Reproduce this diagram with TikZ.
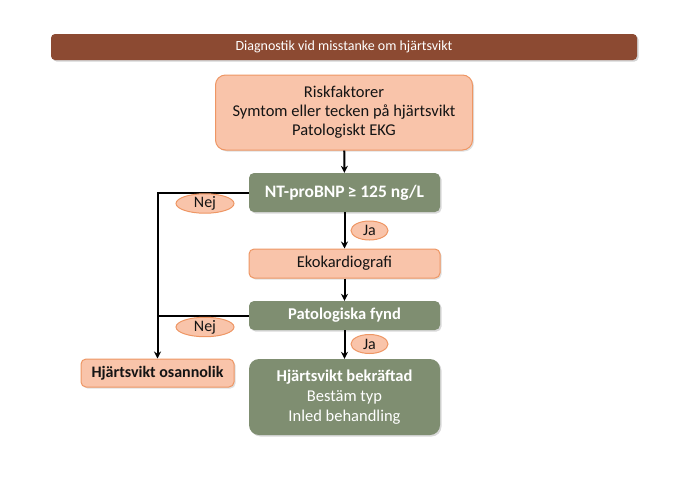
\documentclass[tikz,border=0pt]{standalone}
\usepackage{fontspec}
\setmainfont{Carlito}
\usetikzlibrary{arrows.meta,shapes.geometric,shadows}
\definecolor{bark}{RGB}{140,74,50}
\definecolor{peach}{RGB}{249,196,170}
\definecolor{rust}{RGB}{238,150,100}
\definecolor{sage}{RGB}{127,142,113}
\definecolor{ink}{RGB}{20,20,20}
\tikzset{
  >={Stealth[length=7pt,width=7pt]},
  header/.style={fill=bark,text=white,rounded corners=4pt,minimum width=586pt,
    minimum height=26pt,font=\fontsize{14}{16}\selectfont,
    drop shadow={opacity=0.35,shadow xshift=1.5pt,shadow yshift=-1.5pt}},
  soft box/.style={draw=rust,fill=peach,line width=1pt,rounded corners=#1,align=center,
    text=ink,font=\fontsize{16.5}{19}\selectfont,inner sep=0pt,
    drop shadow={opacity=0.25,shadow xshift=1.5pt,shadow yshift=-1.5pt}},
  soft box/.default=5pt,
  green box/.style={fill=sage,text=white,rounded corners=#1,align=center,inner sep=0pt,
    font=\fontsize{16.5}{20}\selectfont,
    drop shadow={opacity=0.3,shadow xshift=1.5pt,shadow yshift=-1.5pt}},
  green box/.default=5pt,
  answer/.style={ellipse,draw=rust,fill=peach,line width=1pt,inner sep=0pt,
    font=\fontsize{16}{18}\selectfont,text=ink},
  flow/.style={->,line width=2pt,draw=black},
}
\begin{document}
\begin{tikzpicture}[x=1pt,y=-1pt]
  \useasboundingbox (0,0) rectangle (684,490);
  \node[header] (title) at (344,47) {Diagnostik vid misstanke om hjärtsvikt};
  % boxes
  \node[soft box=10pt,minimum width=257pt,minimum height=75pt] (risk) at (344,112.5)
    {Riskfaktorer\\Symtom eller tecken på hjärtsvikt\\Patologiskt EKG};
  \node[green box,minimum width=191pt,minimum height=39pt,font=\fontsize{17.5}{20}\selectfont\bfseries] (bnp) at (344.5,192.5)
    {NT-proBNP\,≥ 125 ng/L};
  \node[soft box,minimum width=191pt,minimum height=29pt] (eko) at (344.5,263.5) {Ekokardiografi};
  \node[green box,minimum width=191pt,minimum height=29pt,font=\fontsize{16.5}{19}\selectfont\bfseries] (fynd) at (344.5,315.5)
    {Patologiska fynd};
  \node[green box=10pt,minimum width=191pt,minimum height=76pt] (bekr) at (344.5,397)
    {\textbf{Hjärtsvikt bekräftad}\\Bestäm typ\\Inled behandling};
  \node[soft box,minimum width=153pt,minimum height=28pt,font=\fontsize{16}{19}\selectfont\bfseries] (osann) at (157.5,373)
    {Hjärtsvikt osannolik};
  % connectors
  \draw[flow] (risk) -- (bnp);
  \draw[flow] (bnp) -- (eko);
  \draw[flow] (eko) -- (fynd);
  \draw[flow] (fynd) -- (bekr);
  \draw[flow] (bnp.west) -| (osann.north);
  \draw[line width=2pt] (fynd.west) -- (fynd.west -| osann.north);
  % answers
  \node[answer,minimum width=58pt,minimum height=18pt] (nej1) at (205,203.5) {Nej};
  \node[answer,minimum width=58pt,minimum height=18pt] (nej2) at (205,327) {Nej};
  \node[answer,minimum width=37pt,minimum height=19pt] (ja1) at (369.5,230.5) {Ja};
  \node[answer,minimum width=37pt,minimum height=19pt] (ja2) at (369.5,344) {Ja};
\end{tikzpicture}
\end{document}
